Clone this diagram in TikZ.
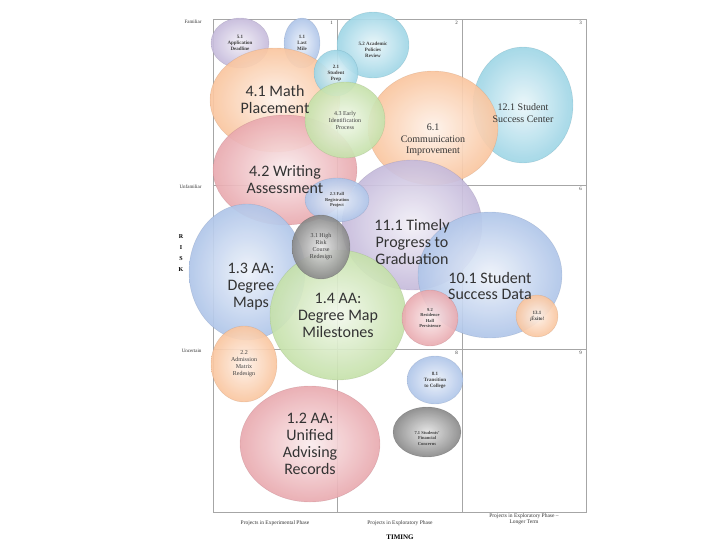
\documentclass[tikz,border=0pt]{standalone}
\usepackage{fontspec}
\setmainfont{Liberation Serif}
\newfontfamily\carl{Carlito}
\begin{document}
\begin{tikzpicture}[x=1pt,y=-1pt]
\tikzset{
 grid/.style={draw=gray!70,line width=0.6pt},
 lab/.style={font=\fontsize{5}{6}\selectfont,text=black!80},
 big/.style={font=\carl\fontsize{16}{17}\selectfont,align=center,text=black!80},
 mid/.style={font=\fontsize{10}{11.5}\selectfont,align=center,text=black!80},
 sm/.style={font=\fontsize{5}{6}\selectfont\bfseries,align=center,text=black!75},
}
\useasboundingbox (0,0) rectangle (728,546);
\fill[white] (0,0) rectangle (728,546);
% grid
\draw[grid] (213,19) rectangle (586,512);
\draw[grid] (337,19) -- (337,512) (462,19) -- (462,512) (213,185) -- (586,185) (213,349) -- (586,349);
\foreach \n/\x/\y in {1/333/24,2/458/24,3/582/24,6/582/190,8/458/354,9/582/354}
  \node[lab,anchor=north east,inner sep=0] (num\n) at (\x,\y-3) {\n};
\node[lab,anchor=east] (fam) at (205,22) {Familiar};
\node[lab,anchor=east] (unf) at (205,187) {Unfamiliar};
\node[lab,anchor=east] (unc) at (205,351) {Uncertain};
\node[font=\fontsize{6}{11}\selectfont\bfseries,align=center] (risk) at (181,253) {R\\I\\S\\K};
\node[lab,font=\fontsize{5.5}{6.5}\selectfont] (b1) at (275,523) {Projects in Experimental Phase};
\node[lab,font=\fontsize{5.5}{6.5}\selectfont] (b2) at (400,523) {Projects in Exploratory Phase};
\node[lab,font=\fontsize{5.5}{6.5}\selectfont,align=center] (b3) at (524,519) {Projects in Exploratory Phase --\\Longer Term};
\node[font=\fontsize{7}{8}\selectfont\bfseries] (timing) at (400,537) {TIMING};
% bubbles
\newcommand\bub[6]{%
 \shade[inner color=#4!12,outer color=#4!55,opacity=0.92] (#1,#2) ellipse [x radius=#3,y radius=#5];
 \draw[#4!60!black,opacity=0.2,line width=0.4pt] (#1,#2) ellipse [x radius=#3,y radius=#5];
 \coordinate (#6) at (#1,#2);}
\definecolor{cpur}{RGB}{150,130,190}
\definecolor{cblu}{RGB}{110,150,215}
\definecolor{ccya}{RGB}{80,180,210}
\definecolor{cora}{RGB}{245,150,80}
\definecolor{cgrn}{RGB}{150,200,100}
\definecolor{cred}{RGB}{215,100,110}
\definecolor{cgry}{RGB}{40,40,40}
\bub{240}{43}{29}{cpur}{25}{c51}
\bub{302}{43}{18}{cblu}{25}{c11}
\bub{373}{45}{36}{ccya}{33}{c52}
\bub{275}{100}{65}{cora}{52}{c41}
\bub{336}{73}{22}{ccya}{23}{c21}
\bub{523}{105}{50}{ccya}{58}{c121}
\bub{433}{128}{65}{cora}{57}{c61}
\bub{285}{170}{72}{cred}{55}{c42}
\bub{345}{120}{40}{cgrn}{38}{c43}
\bub{412}{225}{70}{cpur}{65}{c111}
\bub{337}{200}{32}{cblu}{22}{c23}
\bub{247}{272}{58}{cblu}{68}{c13}
\bub{490}{275}{72}{cblu}{63}{c101}
\bub{244}{364}{33}{cora}{38}{c22}
\bub{338}{315}{68}{cgrn}{65}{c14}
\bub{321}{247}{29}{cgry}{32}{c31}
\bub{430}{318}{28}{cred}{28}{c92}
\bub{537}{316}{21}{cora}{21}{c131}
\bub{435}{380}{28}{cblu}{24}{c81}
\bub{427}{432}{34}{cgry}{25}{c71}
\bub{310}{444}{70}{cred}{58}{c12}
% texts
\node[sm] (t51) at (c51) {5.1\\Application\\Deadline};
\node[sm] (t11) at (c11) {1.1\\Last\\Mile};
\node[sm] (t52) at ([yshift=-5]c52) {5.2 Academic\\Policies\\Review};
\node[sm] (t21) at (c21) {2.1\\Student\\Prep};
\node[big] (t41) at (c41) {4.1 Math\\Placement};
\node[mid] (t121) at ([yshift=-8]c121) {12.1 Student\\Success Center};
\node[mid] (t61) at ([yshift=-12]c61) {6.1\\Communication\\Improvement};
\node[sm,font=\fontsize{6}{7}\selectfont] (t43) at (c43) {4.3 Early\\Identification\\Process};
\node[big] (t42) at ([yshift=-10]c42) {4.2 Writing\\Assessment};
\node[big] (t111) at ([yshift=-17]c111) {11.1 Timely\\Progress to\\Graduation};
\node[sm,font=\fontsize{4.5}{5.5}\selectfont\bfseries] (t23) at (c23) {2.3 Fall\\Registration\\Project};
\node[big] (t13) at ([xshift=4,yshift=-15]c13) {1.3 AA:\\Degree\\Maps};
\node[big] (t101) at ([yshift=-11]c101) {10.1 Student\\Success Data};
\node[sm,font=\fontsize{6}{7}\selectfont] (t22) at (c22) {2.2\\Admission\\Matrix\\Redesign};
\node[big] (t14) at ([yshift=0]c14) {1.4 AA:\\Degree Map\\Milestones};
\node[sm,font=\fontsize{6}{7}\selectfont] (t31) at (c31) {3.1 High\\Risk\\Course\\Redesign};
\node[sm,font=\fontsize{4.5}{5.5}\selectfont\bfseries] (t92) at (c92) {9.2\\Residence\\Hall\\Persistence};
\node[sm] (t131) at (c131) {13.1\\¡Éxito!};
\node[sm] (t81) at (c81) {8.1\\Transition\\to College};
\node[sm,font=\fontsize{4.5}{5.5}\selectfont\bfseries] (t71) at ([yshift=-6]c71) {7.1 Students'\\Financial\\Concerns};
\node[big] (t12) at (c12) {1.2 AA:\\Unified\\Advising\\Records};
\end{tikzpicture}
\end{document}
